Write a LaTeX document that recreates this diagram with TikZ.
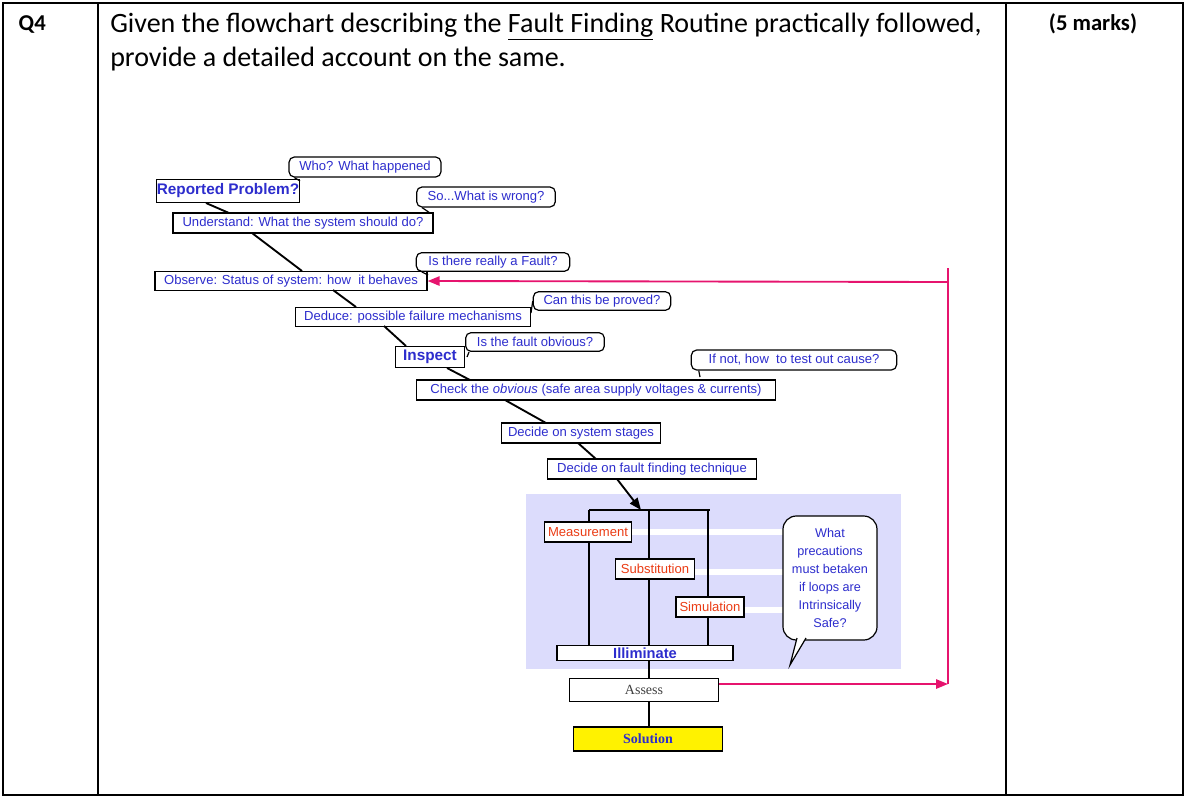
\documentclass[tikz,border=0pt]{standalone}
\usepackage{fontspec}
\setmainfont{Carlito}
\newfontfamily\arl{Liberation Sans}
\newfontfamily\tms{Liberation Serif}
\usetikzlibrary{arrows.meta}
\definecolor{txtblue}{RGB}{45,45,205}
\definecolor{bgblue}{RGB}{220,220,252}
\definecolor{pink}{RGB}{230,20,110}
\definecolor{redtxt}{RGB}{235,60,20}
\tikzset{
  bx/.style={draw=black,line width=1pt,fill=white,inner sep=0pt,font=\arl\fontsize{9.8}{10}\selectfont,text=txtblue},
  bub/.style={bx,rounded corners=4pt,line width=0.9pt},
  rd/.style={bx,text=redtxt},
  ln/.style={line width=1.4pt},
  tl/.style={line width=0.9pt},
  pk/.style={draw=pink,line width=1.4pt,-{Triangle[length=9pt,width=7pt]}}
}
\begin{document}
\begin{tikzpicture}[x=0.75pt,y=-0.75pt]
\useasboundingbox (0,0) rectangle (1188,797);
% table
\draw[line width=0.8pt] (3,3) rectangle (1183,795);
\draw[line width=0.8pt] (98,3) -- (98,795) (1006,3) -- (1006,795);
\node[font=\bfseries\fontsize{17}{20}\selectfont,anchor=west] (q) at (14,24) {Q4};
\node[font=\bfseries\fontsize{17}{20}\selectfont] (m) at (1093,24) {(5 marks)};
\node[font=\fontsize{21}{25}\selectfont,anchor=north west,align=left,inner sep=0pt] (t) at (110,13)
 {Given the flowchart describing the \underline{Fault Finding} Routine practically followed,\\provide a detailed account on the same.};
% background
\fill[bgblue] (526,494) rectangle (901,669);
\draw[white,line width=5pt] (632,532) -- (790,532);
\draw[white,line width=5pt] (694,572) -- (790,572);
\draw[white,line width=5pt] (744,610) -- (790,610);
% boxes
\node[bub,minimum width=114pt,minimum height=15pt] (who) at (365,167) {Who? What happened};
\node[bx,minimum width=107pt,minimum height=17pt,font=\arl\bfseries\fontsize{11.5}{12}\selectfont] (rep) at (228,191) {Reported Problem?};
\node[bub,minimum width=104pt,minimum height=15pt] (so) at (486,197) {So...What is wrong?};
\node[bx,minimum width=195pt,minimum height=15pt] (und) at (303,223) {Understand: What the system should do?};
\node[bub,minimum width=115pt,minimum height=14pt] (real) at (493,262) {Is there really a Fault?};
\node[bx,minimum width=204pt,minimum height=14pt] (obs) at (291,281) {Observe: Status of system: how\ \ it behaves};
\node[bub,minimum width=103pt,minimum height=14pt] (can) at (602,301) {Can this be proved?};
\node[bx,minimum width=176pt,minimum height=14pt] (ded) at (413,317) {Deduce: possible failure mechanisms};
\node[bub,minimum width=104pt,minimum height=14pt] (obv) at (535,342) {Is the fault obvious?};
\node[bx,minimum width=52pt,minimum height=16pt,font=\arl\bfseries\fontsize{11.5}{12}\selectfont] (ins) at (430,357) {Inspect};
\node[bub,minimum width=154pt,minimum height=15pt] (ifn) at (794,360) {If not, how\ \ to test out cause?};
\node[bx,minimum width=269pt,minimum height=15pt] (chk) at (596,390) {Check the \textit{obvious} (safe area supply voltages \& currents)};
\node[bx,minimum width=119pt,minimum height=15pt] (dss) at (581,433) {Decide on system stages};
\node[bx,minimum width=157pt,minimum height=15pt] (dft) at (652,469) {Decide on fault finding technique};
% technique tree
\coordinate (top) at (641,510);
\draw[ln] (589,510) -- (710,510);
\draw[ln] (589,510) -- (589,648) (649,510) -- (649,648) (708,510) -- (708,648);
\draw[ln,-{Triangle[length=9pt,width=7pt]}] (617,479) -- (top);
\node[rd,minimum width=65pt,minimum height=15pt] (mea) at (588,532) {Measurement};
\node[rd,minimum width=59pt,minimum height=15pt] (sub) at (655,569) {Substitution};
\node[rd,minimum width=51pt,minimum height=15pt] (sim) at (710,607) {Simulation};
\node[bx,minimum width=132pt,minimum height=11pt,font=\arl\bfseries\fontsize{11}{10}\selectfont,text=txtblue] (ill) at (645,653) {Illiminate};
\node[bx,minimum width=112pt,minimum height=17pt,font=\tms\fontsize{10.5}{12}\selectfont,text=black!75] (ass) at (644,690) {Assess};
\node[bx,fill=yellow,minimum width=112pt,minimum height=18pt,font=\tms\bfseries\fontsize{10.5}{12}\selectfont] (sol) at (648,739) {Solution};
\draw[ln] (649,661) -- (649,679);
\draw[ln] (649,702) -- (649,727);
% speech bubble
\draw[line width=0.9pt,fill=white,rounded corners=10pt] (800,640) -- (877,640) -- (877,516) -- (783,516) -- (783,640) -- (797,640);
\draw[line width=0.9pt,fill=white] (797,638) -- (790,665) -- (806,638);
\node[font=\arl\fontsize{9.5}{13.5}\selectfont,text=txtblue,align=center] (wp) at (830,578) {What\\precautions\\must betaken\\if loops are\\Intrinsically\\Safe?};
% diagonal connectors
\draw[ln] (206,203) -- (229,213);
\draw[ln] (252,233) -- (302,271);
\draw[ln] (333,290) -- (356,307);
\draw[ln] (384,326) -- (406,346);
\draw[ln] (447,368) -- (470,380);
\draw[ln] (505,400) -- (546,423);
\draw[ln] (578,443) -- (596,459);
% callout tails
\draw[tl] (who.south west) ++(6,0) -- (300,181);
\draw[tl] (so.south west) ++(6,0) -- (430,213);
\draw[tl] (real.south west) ++(6,0) -- (428,275);
\draw[tl] (can.west) -- (531,313);
\draw[tl] (obv.south west) ++(4,0) -- (467,357);
\draw[tl] (ifn.south west) ++(8,0) -- (700,377);
% pink loop
\coordinate (c1) at (948,684);
\coordinate (c2) at (948,282);
\draw[pk] (ass.east |- 0,684) -- (c1);
\draw[draw=pink,line width=1.4pt] (c1) -- (948,268);
\draw[pk] (c2) -- (obs.east);
\end{tikzpicture}
\end{document}
